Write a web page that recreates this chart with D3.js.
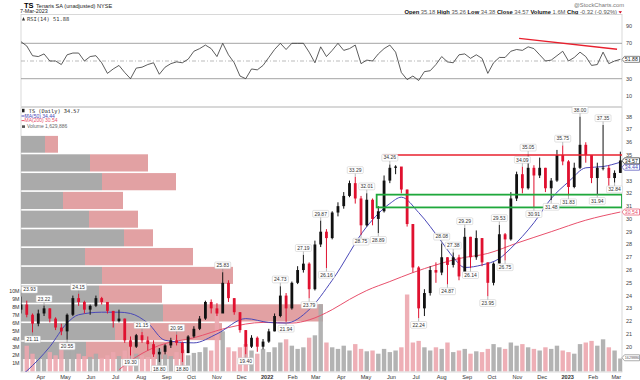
<!DOCTYPE html>
<html>
<head>
<meta charset="utf-8">
<script src="https://cdn.jsdelivr.net/npm/d3@7"></script>
<style>
body { margin: 0; background: #fff; }
svg { font-family: "Liberation Sans", Arial, sans-serif; }
</style>
</head>
<body>
<div id="chart"></div>
<script>
// weekly bars, first week starts 2021-03-08
const weekHigh = [23.93,23.6,22.6,22.9,23.22,23.0,22.3,21.8,22.6,24.0,
  24.15,23.6,23.3,24.0,23.9,23.5,22.8,22.9,22.2,20.8,
  21.0,21.15,20.8,20.5,19.9,20.2,20.7,20.95,20.4,20.9,
  21.6,22.4,23.6,23.7,23.4,25.83,25.2,23.8,22.7,21.3,
  20.9,20.8,20.6,21.4,22.6,24.73,24.2,25.1,26.3,27.19,
  26.6,28.3,29.87,29.2,30.6,31.3,32.1,33.0,33.29,31.8,
  32.01,31.6,31.0,33.4,34.26,34.2,34.0,32.3,29.6,26.3,
  24.5,26.3,26.6,28.08,27.0,27.38,27.2,29.29,28.6,29.1,
  28.5,26.6,26.6,29.53,28.9,32.1,33.7,34.09,35.05,34.2,
  34.8,34.0,33.2,35.4,35.75,34.6,34.4,38.0,36.0,35.0,
  34.4,37.35,34.2,33.8,35.26];
const weekLow = [22.6,22.3,21.11,21.6,22.4,21.9,21.3,20.9,20.55,22.4,
  23.2,22.6,22.5,23.1,23.3,22.6,21.5,21.9,20.3,19.3,
  19.9,20.3,19.7,19.2,18.8,19.4,19.9,20.1,18.8,19.5,
  20.7,21.3,22.1,22.6,22.4,22.8,23.5,22.5,21.1,19.4,
  19.9,19.6,19.8,20.3,21.2,22.3,21.94,22.9,24.9,25.8,
  23.79,24.4,27.8,26.16,28.4,30.2,30.8,31.7,31.2,28.75,
  29.4,29.5,28.89,30.5,32.8,33.5,32.0,29.4,25.8,22.24,
  22.4,24.0,25.0,25.6,24.87,26.2,25.2,25.5,26.14,26.8,
  26.3,23.95,24.8,26.4,26.75,28.3,31.4,32.0,32.3,30.91,
  33.2,32.1,31.48,32.9,34.2,31.83,32.4,33.9,34.4,32.8,
  31.94,33.8,32.6,32.84,33.6];
const weekClose = [23.3,22.5,21.8,22.6,23.0,22.2,21.5,21.2,22.5,23.8,
  23.5,22.9,23.2,23.8,23.5,22.8,22.0,22.2,20.5,20.0,
  20.9,20.5,20.2,19.4,19.6,20.1,20.5,20.3,19.5,20.8,
  21.4,22.2,23.5,23.0,22.6,25.0,23.8,22.7,21.3,20.0,
  20.7,20.0,20.4,21.2,22.4,24.0,23.0,25.0,26.0,26.5,
  24.5,28.0,29.0,28.5,30.5,31.0,31.8,32.8,31.6,29.5,
  31.5,30.0,30.6,33.0,34.0,34.1,32.3,29.6,26.2,23.0,
  24.2,26.0,25.8,27.0,26.4,27.0,25.5,28.6,27.0,28.5,
  26.6,25.0,26.5,28.8,28.4,31.6,33.5,32.4,34.0,33.4,
  34.0,32.4,33.0,35.0,34.5,32.5,34.0,35.8,35.0,33.2,
  34.0,34.0,33.2,33.6,34.57];
const weekVolume = [2.5,3.2,2.2,2.0,1.8,2.4,2.0,3.6,2.4,2.8,
  2.2,1.9,1.8,2.2,1.7,2.0,2.4,1.9,2.6,3.0,
  2.2,2.0,1.8,2.2,2.8,2.1,1.9,2.4,2.7,2.0,
  2.3,2.4,3.0,2.6,7.2,5.0,3.0,2.5,3.0,3.4,
  2.6,2.2,2.8,2.4,3.0,3.6,4.0,3.2,2.8,3.0,
  4.2,4.5,8.4,3.6,3.0,2.8,3.2,2.6,3.4,2.8,
  2.5,2.6,2.2,2.8,2.4,2.6,3.0,9.6,3.6,3.8,
  3.0,2.6,3.0,2.8,3.6,2.4,2.6,2.8,2.2,2.5,
  2.4,2.8,3.4,3.0,2.8,3.6,3.2,3.4,3.0,2.8,
  2.6,3.0,2.8,3.2,2.6,2.4,2.2,3.4,3.6,3.8,
  3.2,4.0,3.0,2.6,1.6];
const rsiWeekly = [71.8,67,56,55,58,50,50,46,57,59,
  59,50,55,56,48,36,41,45,37,30,
  42,43,46,48,35,43,47,49,48,52,
  61,64,68,64,55,70,57,48,33,30,
  41,40,45,54,63,70,63,70,70,70,
  60,48,66,55,62,70,62,64,68,47,
  51,50,58,64,68,60,37,29,33,28,
  38,39,46,55,49,48,57,58,53,57,
  53,36,48,54,54,61,63,62,66,64,
  57,50,51,56,61,50,54,60,55,45,
  46,60,47,50,51.88];

const ma50Weeks = [0,1,5,8,10,14,17,19,22,25,30,34,39,43,46,50,54,60,64,66,69,73,75,77,80,83,85,89,92,95,98,101,104];
const ma50Values = [17.7,18.1,20.0,21.85,22.5,22.7,22.7,22.6,21.85,20.5,20.3,21.0,22.2,21.9,21.85,22.9,25.2,29.4,31.2,31.7,30.5,28.2,27.0,26.2,26.4,26.9,27.7,29.7,31.6,32.9,34.0,34.1,34.44];
const ma200Weeks = [17,20,24,30,36,42,47,50,54,57,60,64,68,72,76,81,86,92,98,104];
const ma200Values = [18.2,19.2,20.1,20.7,21.5,21.9,21.85,22.1,22.9,23.7,24.4,25.1,25.8,26.4,26.9,27.3,28.1,29.0,29.9,30.54];

// volume by price zones
const vbpLow  = [18.97,20.45,21.91,23.38,24.85,26.31,27.79,29.25,30.71,32.18,33.65,35.12];
const vbpHigh = [20.45,21.91,23.38,24.85,26.31,27.79,29.25,30.71,32.18,33.65,35.12,36.56];
const vbpUp   = [65,94,142,78,81,64,103,68,42,81,69,24];
const vbpDown = [96,107,160,63,131,108,29,49,60,74,58,13];

// [week, label, high/low]
const notes = [
  [0,"23.93","h"],[2,"21.11","l"],[4,"23.22","h"],[8,"20.55","l"],[10,"24.15","h"],
  [19,"19.30","l"],[21,"21.15","h"],[24,"18.80","l"],[27,"20.95","h"],[28,"18.80","l"],
  [35,"25.83","h"],[39,"19.40","l"],[45,"24.73","h"],[46,"21.94","l"],[49,"27.19","h"],
  [50,"23.79","l"],[52,"29.87","h"],[53,"26.16","l"],[58,"33.29","h"],[59,"28.75","l"],
  [60,"32.01","h"],[62,"28.89","l"],[64,"34.26","h"],[69,"22.24","l"],[73,"28.08","h"],
  [74,"24.87","l"],[75,"27.38","h"],[77,"29.29","h"],[78,"26.14","l"],[81,"23.95","l"],
  [83,"29.53","h"],[84,"26.75","l"],[87,"34.09","h"],[88,"35.05","h"],[89,"30.91","l"],
  [92,"31.48","l"],[94,"35.75","h"],[95,"31.83","l"],[97,"38.00","h"],[100,"31.94","l"],
  [101,"37.35","h"],[103,"32.84","l"]
];

const monthLabels = ["Apr","May","Jun","Jul","Aug","Sep","Oct","Nov","Dec","2022","Feb","Mar",
  "Apr","May","Jun","Jul","Aug","Sep","Oct","Nov","Dec","2023","Feb","Mar"];
// 34 sits under the last-value boxes
const priceTicks = [20,21,22,23,24,25,26,27,28,29,30,31,32,33,35,36,37,38];
const volTicks = [1,2,3,4,5,6,7,8,9,10];
const rsiTicks = [10,30,70,90];

const resistance = {from: "2022-05-22", price: 35.0};
const supportZone = {from: "2022-05-14", low: 30.9, high: 31.9};
const rsiTrend = [["2022-11-03", 75.6], ["2023-03-02", 63.2]];

// ---------------------------------------------------------------
const W = 640, H = 380;
const L = 21, R = 622;
const rsiTop = 14.5, rsiBot = 106.5, pTop = 107.5, pBot = 372;
const start = new Date(2021, 2, 8);
const weekDate = i => d3.timeDay.offset(start, 7 * i);
const parse = d3.timeParse("%Y-%m-%d");

const x = d3.scaleTime().domain([start, new Date(2023, 2, 8)]).range([L, R]);
const y = d3.scaleLinear().domain([20, 38]).range([346.7, 116.7]);
const vy = d3.scaleLinear().domain([0, 10]).range([371.3, 291.3]);
const ry = d3.scaleLinear().domain([30, 70]).range([78.7, 43.3]);
const vbpX = d3.scaleLinear().domain([0, R - L]).range([L, R]);

const svg = d3.select("#chart").append("svg").attr("width", W).attr("height", H);
svg.append("rect").attr("width", W).attr("height", H).attr("fill", "#fff");

const defs = svg.append("defs");
defs.append("clipPath").attr("id", "pclip").append("rect")
  .attr("x", L).attr("y", pTop).attr("width", R - L).attr("height", pBot - pTop);
defs.append("clipPath").attr("id", "rclip").append("rect")
  .attr("x", L).attr("y", rsiTop).attr("width", R - L).attr("height", rsiBot - rsiTop);

// header
svg.append("text").attr("x", 24).attr("y", 7.6).attr("font-size", 7.5).attr("font-weight", "bold").text("TS");
svg.append("text").attr("x", 36).attr("y", 7.6).attr("font-size", 5.6).attr("fill", "#222").text("Tenaris SA (unadjusted) NYSE");
svg.append("text").attr("x", 20).attr("y", 13.4).attr("font-size", 5.4).attr("fill", "#222").text("7-Mar-2023");
svg.append("text").attr("x", 624).attr("y", 7).attr("font-size", 5.8).attr("fill", "#777")
  .attr("text-anchor", "end").text("@StockCharts.com");

const quote = svg.append("text").attr("x", 617).attr("y", 13.6).attr("font-size", 5.8)
  .attr("text-anchor", "end").attr("fill", "#555");
[["Open", "35.18"], ["High", "35.26"], ["Low", "34.38"], ["Close", "34.57"], ["Volume", "1.6M"], ["Chg", "-0.32 (-0.92%)"]]
  .forEach(([k, v], i) => {
    quote.append("tspan").attr("font-weight", "bold").attr("fill", "#111").text((i ? "  " : "") + k);
    quote.append("tspan").text(" " + v);
  });
svg.append("path").attr("d", "M618.5,11.3 L622,11.3 L620.25,13.6 Z").attr("fill", "#d0021b");

// panels
const frame = "#cfcfcf";
svg.append("rect").attr("x", L).attr("y", rsiTop).attr("width", R - L).attr("height", rsiBot - rsiTop)
  .attr("fill", "none").attr("stroke", frame).attr("stroke-width", 0.8);
svg.append("rect").attr("x", L).attr("y", pTop).attr("width", R - L).attr("height", pBot - pTop)
  .attr("fill", "none").attr("stroke", frame).attr("stroke-width", 0.8);

// ---------------- RSI panel
const rsiG = svg.append("g");
[70, 30].forEach(v => rsiG.append("line").attr("x1", L).attr("x2", R).attr("y1", ry(v)).attr("y2", ry(v))
  .attr("stroke", "#9a9a9a").attr("stroke-width", 0.9));
rsiG.append("line").attr("x1", L).attr("x2", R).attr("y1", ry(50)).attr("y2", ry(50))
  .attr("stroke", "#aaa").attr("stroke-width", 0.8).attr("stroke-dasharray", "4,2,1,2");
rsiG.append("path").datum(rsiWeekly).attr("clip-path", "url(#rclip)")
  .attr("fill", "none").attr("stroke", "#333").attr("stroke-width", 0.8)
  .attr("d", d3.line().x((d, i) => x(weekDate(i))).y(d => ry(d)));
rsiG.append("path").datum(rsiTrend)
  .attr("fill", "none").attr("stroke", "#e8202e").attr("stroke-width", 1.4)
  .attr("d", d3.line().x(d => x(parse(d[0]))).y(d => ry(d[1])));
rsiTicks.forEach(v => svg.append("text").attr("x", 626).attr("y", ry(v) + 2).attr("font-size", 5.5)
  .attr("fill", "#444").text(v));
// legend
svg.append("path").attr("d", "M22,20.5 L23.5,17 L25,20.5 Z").attr("fill", "#333");
svg.append("text").attr("x", 27).attr("y", 20.6).attr("font-size", 5.4)
  .attr("font-family", "DejaVu Sans Mono").attr("fill", "#333").text("RSI(14) 51.88");

function valueBox(yv, label, stroke, color, size) {
  const g = svg.append("g");
  g.append("path").attr("d", `M622,${yv} L624.5,${yv - 3} L639.5,${yv - 3} L639.5,${yv + 3} L624.5,${yv + 3} Z`)
    .attr("fill", "#fff").attr("stroke", stroke).attr("stroke-width", 0.7);
  g.append("text").attr("x", 624.8).attr("y", yv + 1.7).attr("font-size", size || 5.2).attr("fill", color).text(label);
}
valueBox(ry(51.88), "51.88", "#555", "#222");

// ---------------- price panel
const pg = svg.append("g").attr("clip-path", "url(#pclip)");

// volume by price
vbpLow.forEach((lo, i) => {
  const top = y(vbpHigh[i]) + 0.8, h = y(lo) - y(vbpHigh[i]) - 1.6;
  pg.append("rect").attr("x", L).attr("y", top).attr("width", vbpX(vbpUp[i]) - L).attr("height", h)
    .attr("fill", "#aaaaaa");
  pg.append("rect").attr("x", vbpX(vbpUp[i])).attr("y", top).attr("width", vbpX(vbpDown[i]) - L).attr("height", h)
    .attr("fill", "#e2a1a3");
});

// volume
const isUp = i => i === 0 ? weekClose[0] >= 22.9 : weekClose[i] >= weekClose[i - 1];
weekVolume.forEach((v, i) => {
  pg.append("rect").attr("x", x(weekDate(i)) - 2.2).attr("width", 4.4)
    .attr("y", vy(v)).attr("height", vy(0) - vy(v))
    .attr("fill", isUp(i) ? "#ababab" : "#eca6ae").attr("opacity", 0.9);
});

// moving averages
pg.append("path").datum(ma200Weeks.map((w, i) => [w, ma200Values[i]]))
  .attr("fill", "none").attr("stroke", "#e8506c").attr("stroke-width", 1)
  .attr("d", d3.line().curve(d3.curveMonotoneX).x(d => x(weekDate(d[0]))).y(d => y(d[1])));
pg.append("path").datum(ma50Weeks.map((w, i) => [w, ma50Values[i]]))
  .attr("fill", "none").attr("stroke", "#4a48b8").attr("stroke-width", 1)
  .attr("d", d3.line().curve(d3.curveMonotoneX).x(d => x(weekDate(d[0]))).y(d => y(d[1])));

// candles
weekClose.forEach((c, i) => {
  const o = i === 0 ? 22.9 : weekClose[i - 1];
  const col = isUp(i) ? "#111" : "#e0102f";
  const cx = x(weekDate(i));
  pg.append("line").attr("x1", cx).attr("x2", cx).attr("y1", y(weekHigh[i])).attr("y2", y(weekLow[i]))
    .attr("stroke", col).attr("stroke-width", 1);
  pg.append("rect").attr("x", cx - 1.4).attr("width", 2.8)
    .attr("y", y(Math.max(o, c))).attr("height", Math.max(0.8, Math.abs(y(o) - y(c))))
    .attr("fill", col);
});

// support zone and resistance
pg.append("rect").attr("x", x(parse(supportZone.from))).attr("y", y(supportZone.high))
  .attr("width", R - x(parse(supportZone.from))).attr("height", y(supportZone.low) - y(supportZone.high))
  .attr("fill", "none").attr("stroke", "#1fa83c").attr("stroke-width", 1.8);
pg.append("line").attr("x1", x(parse(resistance.from))).attr("x2", R)
  .attr("y1", y(resistance.price)).attr("y2", y(resistance.price))
  .attr("stroke", "#e8202e").attr("stroke-width", 1.6);

// annotations
notes.forEach(([w, t, kind]) => {
  const cx = x(weekDate(w)), py = y(+t);
  const lx = Math.max(cx, L + 8.5);
  const ly = kind === "h" ? py - 6.8 : py + 6.8;
  const g = svg.append("g");
  g.append("line").attr("x1", cx).attr("x2", cx).attr("y1", py).attr("y2", ly)
    .attr("stroke", "#888").attr("stroke-width", 0.6);
  g.append("rect").attr("x", lx - 8).attr("y", ly - 3.4).attr("width", 16).attr("height", 6.8)
    .attr("fill", "#fff").attr("stroke", "#c4c4c4").attr("stroke-width", 0.5).attr("rx", 1);
  g.append("text").attr("x", lx).attr("y", ly + 1.8).attr("text-anchor", "middle")
    .attr("font-size", 5).attr("fill", "#333").text(t);
});

// axes
priceTicks.forEach(v => svg.append("text").attr("x", 626).attr("y", y(v) + 2).attr("font-size", 5.5)
  .attr("fill", "#444").text(v));
volTicks.forEach(v => svg.append("text").attr("x", 19.5).attr("y", vy(v) + 2).attr("font-size", 5.3)
  .attr("text-anchor", "end").attr("fill", "#333").text(v + "M"));
const months = d3.timeMonth.range(new Date(2021, 3, 1), new Date(2023, 3, 1));
months.forEach((m, i) => svg.append("text").attr("x", x(m)).attr("y", 378.5).attr("text-anchor", "middle")
  .attr("font-size", 5.6).attr("fill", "#333")
  .attr("font-weight", monthLabels[i].length === 4 ? "bold" : "normal").text(monthLabels[i]));

valueBox(y(34.44) + 5, "34.44", "#4a48b8", "#4a48b8");
valueBox(y(34.57) + 0.3, "34.57", "#222", "#111");
valueBox(y(30.54), "30.54", "#e8506c", "#e8506c");
valueBox(vy(1.63) - 0.5, "1629886", "#888", "#555", 3.7);

// price legend
svg.append("rect").attr("x", 22).attr("y", 108.8).attr("width", 2.5).attr("height", 3.5).attr("fill", "#222");
svg.append("text").attr("x", 25.5).attr("y", 112.6).attr("font-size", 5.3)
  .attr("font-family", "DejaVu Sans Mono").attr("fill", "#222").text("_TS (Daily) 34.57");
svg.append("line").attr("x1", 21.5).attr("x2", 24.5).attr("y1", 116).attr("y2", 116).attr("stroke", "#4a48b8");
svg.append("text").attr("x", 24.5).attr("y", 117.8).attr("font-size", 5).attr("fill", "#4a48b8").text("MA(50) 34.44");
svg.append("line").attr("x1", 21.5).attr("x2", 24.5).attr("y1", 120.6).attr("y2", 120.6).attr("stroke", "#e8506c");
svg.append("text").attr("x", 24.5).attr("y", 122.4).attr("font-size", 5).attr("fill", "#e8506c").text("MA(200) 30.54");
svg.append("rect").attr("x", 22).attr("y", 125.3).attr("width", 3).attr("height", 2.6).attr("fill", "#555");
svg.append("text").attr("x", 27).attr("y", 127.8).attr("font-size", 5).attr("fill", "#666").text("Volume 1,629,886");
</script>
</body>
</html>
